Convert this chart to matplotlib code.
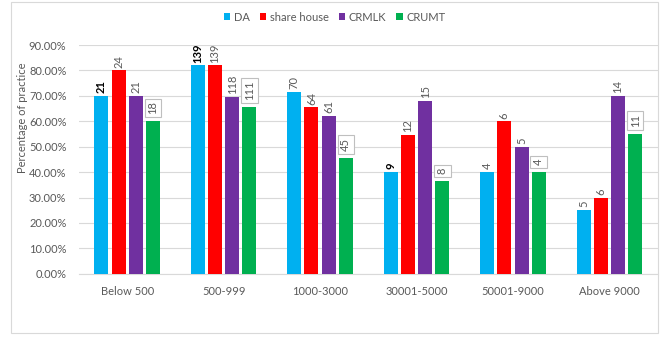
import numpy as np
import matplotlib.pyplot as plt
from matplotlib.patches import Rectangle

plt.rcParams['font.family'] = ['Lato', 'DejaVu Sans']

categories = ['Below 500', '500-999', '1000-3000', '30001-5000', '50001-9000', 'Above 9000']
series = ['DA', 'share house', 'CRMLK', 'CRUMT']
colors = ['#00B0F0', '#FF0000', '#7030A0', '#00B050']

da = [0.70, 0.82, 0.715, 0.40, 0.40, 0.25]
share_house = [0.80, 0.82, 0.655, 0.545, 0.60, 0.30]
crmlk = [0.70, 0.695, 0.62, 0.68, 0.50, 0.70]
crumt = [0.60, 0.655, 0.455, 0.365, 0.40, 0.55]

da_counts = ['21', '139', '70', '9', '4', '5']
share_counts = ['24', '139', '64', '12', '6', '6']
crmlk_counts = ['21', '118', '61', '15', '5', '14']
crumt_counts = ['18', '111', '45', '8', '4', '11']
da_bold = [True, True, False, True, False, False]

values = [da, share_house, crmlk, crumt]
counts = [da_counts, share_counts, crmlk_counts, crumt_counts]

fig = plt.figure(figsize=(6.69, 3.41), dpi=100)
fig.patches.append(Rectangle((0.016, 0.022), 0.967, 0.972, transform=fig.transFigure,
                             fill=False, edgecolor='#d9d9d9', linewidth=0.8))
ax = fig.add_axes([0.118, 0.197, 0.865, 0.671])

x = np.arange(len(categories))
width = 0.145
step = 0.178
offsets = (np.arange(4) - 1.5) * step

# bars with rotated count labels on top, CRUMT labels boxed
for i, (name, vals, col, labs) in enumerate(zip(series, values, colors, counts)):
    xs = x + offsets[i]
    ax.bar(xs, vals, width, color=col, label=name, zorder=3)
    for j, (xx, v, lab) in enumerate(zip(xs, vals, labs)):
        if i == 3:
            ax.annotate(lab, (xx, v), xytext=(0, 5), textcoords='offset points',
                        rotation=90, ha='center', va='bottom', fontsize=8, color='#595959',
                        bbox=dict(boxstyle='square,pad=0.25', fc='white', ec='#bfbfbf', lw=0.8),
                        zorder=5)
        else:
            bold = i == 0 and da_bold[j]
            ax.annotate(lab, (xx, v), xytext=(0, 2), textcoords='offset points',
                        rotation=90, ha='center', va='bottom', fontsize=8,
                        color='black' if bold else '#595959',
                        fontweight='bold' if bold else 'normal', zorder=5)

ax.set_xlim(-0.5, len(categories) - 0.5)
ax.set_ylim(0, 0.9)
ticks = np.arange(0, 0.91, 0.1)
ax.set_yticks(ticks)
ax.set_yticklabels(['%.2f%%' % (t * 100) for t in ticks])
ax.set_xticks(x)
ax.set_xticklabels(categories)
ax.yaxis.grid(True, color='#d9d9d9', linewidth=0.8, zorder=0)
for s in ['top', 'right', 'left']:
    ax.spines[s].set_visible(False)
ax.spines['bottom'].set_color('#d9d9d9')
ax.tick_params(axis='y', length=0, labelsize=8, colors='#595959', pad=9)
ax.tick_params(axis='x', length=0, labelsize=8, colors='#595959', pad=9)
ax.set_ylabel('Percentage of practice', fontsize=8, color='#595959')
ax.yaxis.set_label_coords(-0.088, 0.68)

fig.legend(loc='center', bbox_to_anchor=(0.5, 0.95), ncol=4, frameon=False,
           fontsize=8, handlelength=0.6, handleheight=0.6, handletextpad=0.3,
           columnspacing=0.9, labelcolor='#595959')

fig.savefig('out.png', dpi=100)
